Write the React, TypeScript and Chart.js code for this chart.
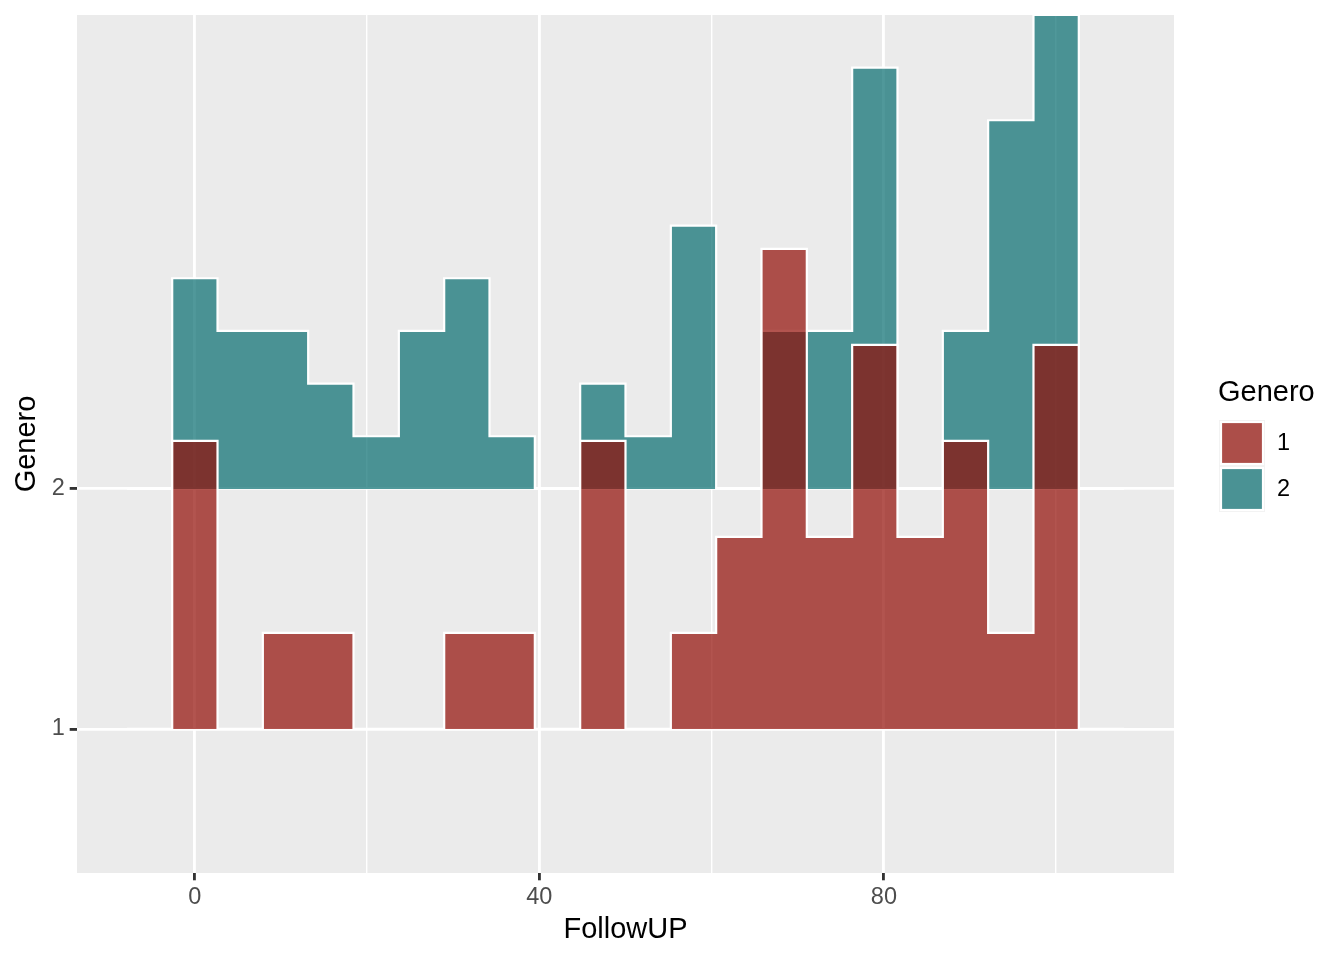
import { useEffect, useRef } from "react";
import { Chart, registerables } from "chart.js";

Chart.register(...registerables);

// bin centres of the histogram (FollowUP)
const binCenters = [
  0, 5.263, 10.526, 15.789, 21.053, 26.316, 31.579, 36.842, 42.105, 47.368,
  52.632, 57.895, 63.158, 68.421, 73.684, 78.947, 84.211, 89.474, 94.737, 100,
];
const binWidth = 5.263;

// counts per bin for each Genero
const genero1Counts = [3, 0, 1, 1, 0, 0, 1, 1, 0, 3, 0, 1, 2, 5, 2, 4, 2, 3, 1, 4];
const genero2Counts = [4, 3, 3, 2, 1, 3, 4, 1, 0, 2, 1, 5, 0, 3, 3, 8, 0, 3, 7, 9];

const groupLabels = ["1", "2"];
const groupBase = [1, 2];
const groupColors = ["rgba(146, 12, 4, 0.7)", "rgba(5, 108, 111, 0.7)"];

const xTicks = [0, 20, 40, 60, 80, 100];
const xMajor = [0, 40, 80];
const yTicks = [1, 2];

const ridgeScale = 13.6;
const FONT = "'Liberation Sans', Arial, Helvetica, sans-serif";

function ridgePoints(counts: number[], base: number) {
  const total = counts.reduce((a, b) => a + b, 0);
  const pts: { x: number; y: number }[] = [];
  const first = binCenters[0] - binWidth / 2;
  const last = binCenters[binCenters.length - 1] + binWidth / 2;
  pts.push({ x: first - binWidth, y: base });
  pts.push({ x: first, y: base });
  binCenters.forEach((c, i) => {
    const h = base + (counts[i] / total) * ridgeScale;
    pts.push({ x: c - binWidth / 2, y: h });
    pts.push({ x: c + binWidth / 2, y: h });
  });
  pts.push({ x: last, y: base });
  pts.push({ x: last + binWidth, y: base });
  return pts;
}

const ggPlugin = {
  id: "ggDecor",
  beforeDraw(chart: Chart) {
    const { ctx, chartArea } = chart;
    ctx.save();
    ctx.fillStyle = "#ffffff";
    ctx.fillRect(0, 0, chart.width, chart.height);
    ctx.fillStyle = "#EBEBEB";
    ctx.fillRect(chartArea.left, chartArea.top, chartArea.right - chartArea.left, chartArea.bottom - chartArea.top);
    ctx.restore();
  },
  afterDraw(chart: Chart) {
    const { ctx, chartArea } = chart;
    ctx.save();
    ctx.fillStyle = "#000000";
    ctx.font = `29px ${FONT}`;
    ctx.textAlign = "center";
    ctx.textBaseline = "alphabetic";
    ctx.fillText("FollowUP", (chartArea.left + chartArea.right) / 2, 938);

    ctx.save();
    ctx.translate(35, (chartArea.top + chartArea.bottom) / 2);
    ctx.rotate(-Math.PI / 2);
    ctx.fillText("Genero", 0, 0);
    ctx.restore();

    // legend
    ctx.textAlign = "left";
    ctx.fillText("Genero", 1218, 401);
    ctx.font = `23.5px ${FONT}`;
    ctx.textBaseline = "middle";
    groupLabels.forEach((lab, i) => {
      const y0 = 420 + i * 46;
      ctx.fillStyle = "#F2F2F2";
      ctx.fillRect(1219, y0, 46, 46);
      ctx.fillStyle = "#EBEBEB";
      ctx.fillRect(1221, y0 + 2, 42, 42);
      ctx.fillStyle = groupColors[i];
      ctx.fillRect(1221, y0 + 2, 42, 42);
      ctx.strokeStyle = "#ffffff";
      ctx.lineWidth = 2.2;
      ctx.strokeRect(1221, y0 + 2, 42, 42);
      ctx.fillStyle = "#000000";
      ctx.fillText(lab, 1277, y0 + 24);
    });
    ctx.restore();
  },
};

export default function App() {
  const canvasRef = useRef<HTMLCanvasElement | null>(null);
  const chartRef = useRef<Chart | null>(null);

  useEffect(() => {
    document.body.style.margin = "0";
    const ctx = canvasRef.current?.getContext("2d");
    if (!ctx) return;

    const countsByGroup = [genero1Counts, genero2Counts];
    const datasets = countsByGroup.map((counts, i) => ({
      label: groupLabels[i],
      data: ridgePoints(counts, groupBase[i]),
      borderColor: "#ffffff",
      borderWidth: 2.2,
      backgroundColor: groupColors[i],
      fill: { value: groupBase[i] },
      pointRadius: 0,
      tension: 0,
      borderJoinStyle: "miter" as const,
      order: i, // Genero 1 drawn on top
    }));

    chartRef.current = new Chart(ctx, {
      type: "line",
      data: { datasets },
      options: {
        animation: false,
        responsive: true,
        maintainAspectRatio: false,
        layout: { padding: { left: 0, right: 170, top: 15, bottom: 0 } },
        plugins: { legend: { display: false }, tooltip: { enabled: false } },
        scales: {
          x: {
            type: "linear",
            min: -13.684,
            max: 113.684,
            afterBuildTicks: (scale: any) => {
              scale.ticks = xTicks.map((v) => ({ value: v }));
            },
            afterFit: (scale: any) => {
              scale.height = 87;
              scale.paddingLeft = 0;
              scale.paddingRight = 0;
            },
            border: { display: false },
            grid: {
              color: "#ffffff",
              lineWidth: (c: any) => (xMajor.includes(c.tick?.value) ? 2.84 : 1.42),
              tickColor: (c: any) => (xMajor.includes(c.tick?.value) ? "#333333" : "rgba(0,0,0,0)"),
              tickWidth: 2.84,
              tickLength: 7.3,
            },
            ticks: {
              autoSkip: false,
              maxRotation: 0,
              padding: 3,
              color: "#4D4D4D",
              font: { family: FONT, size: 23.5 },
              callback: (v: any) => (xMajor.includes(Number(v)) ? String(v) : ""),
            },
          },
          y: {
            type: "linear",
            min: 0.4,
            max: 3.974,
            afterBuildTicks: (scale: any) => {
              scale.ticks = yTicks.map((v) => ({ value: v }));
            },
            afterFit: (scale: any) => {
              scale.width = 77;
              scale.paddingTop = 0;
              scale.paddingBottom = 0;
            },
            border: { display: false },
            grid: {
              color: "#ffffff",
              lineWidth: 2.84,
              tickColor: "#333333",
              tickWidth: 2.84,
              tickLength: 7.3,
            },
            ticks: {
              autoSkip: false,
              padding: 5,
              color: "#4D4D4D",
              font: { family: FONT, size: 23.5 },
              callback: (v: any) => String(v),
            },
          },
        },
      },
      plugins: [ggPlugin],
    });

    return () => {
      chartRef.current?.destroy();
      chartRef.current = null;
    };
  }, []);

  return (
    <div style={{ width: 1344, height: 960, position: "relative" }}>
      <canvas ref={canvasRef} />
    </div>
  );
}
